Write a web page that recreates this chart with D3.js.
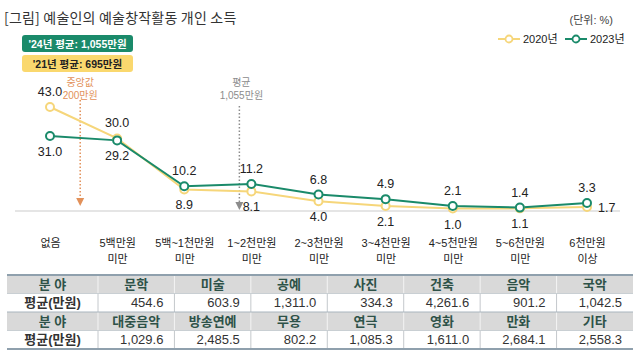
<!DOCTYPE html>
<html>
<head>
<meta charset="utf-8">
<script src="https://cdn.jsdelivr.net/npm/d3@7"></script>
<style>
  html, body { margin: 0; padding: 0; background: #fff; }
  svg { display: block; font-family: "Liberation Sans", Arial, "Noto Sans CJK KR", sans-serif; }
</style>
</head>
<body>
<svg id="chart" width="640" height="360"></svg>
<script>
// ---- data ----
const categories = ["없음", "5백만원\n미만", "5백~1천만원\n미만", "1~2천만원\n미만", "2~3천만원\n미만", "3~4천만원\n미만", "4~5천만원\n미만", "5~6천만원\n미만", "6천만원\n이상"];
const series2020 = [43.0, 30.0, 8.9, 8.1, 4.0, 2.1, 1.0, 1.1, 1.7];
const series2023 = [31.0, 29.2, 10.2, 11.2, 6.8, 4.9, 2.1, 1.4, 3.3];
const seriesNames = ["2020년", "2023년"];
const badgeTexts = ["'24년 평균: 1,055만원", "'21년 평균: 695만원"];
const medianLabel = ["중앙값", "200만원"];
const meanLabel = ["평균", "1,055만원"];
const tableFields1 = ["문학", "미술", "공예", "사진", "건축", "음악", "국악"];
const tableAvg1 = [454.6, 603.9, 1311.0, 334.3, 4261.6, 901.2, 1042.5];
const tableFields2 = ["대중음악", "방송연예", "무용", "연극", "영화", "만화", "기타"];
const tableAvg2 = [1029.6, 2485.5, 802.2, 1085.3, 1611.0, 2684.1, 2558.3];
const tableRowHeads = ["분  야", "평균(만원)"];

// ---- styles ----
const C_GREEN = "#1a8a6a";
const C_YELLOW = "#f6d67a";
const C_ORANGE = "#e2915a";
const KFONT = "'Liberation Sans', Arial, 'Noto Sans CJK KR', sans-serif";

const svg = d3.select("#chart");

// title
svg.append("text").attr("x", 4).attr("y", 23)
  .attr("font-size", 14).attr("fill", "#333").attr("letter-spacing", 0.2)
  .attr("font-family", "'Noto Sans CJK KR', sans-serif")
  .text("[그림] 예술인의 예술창작활동 개인 소득");

// unit
svg.append("text").attr("x", 613).attr("y", 24).attr("text-anchor", "end")
  .attr("font-size", 11).attr("fill", "#444").text("(단위: %)");

// badges
const badgeColors = [C_GREEN, "#fad86e"];
const badgeTextColors = ["#fff", "#222"];
badgeTexts.forEach((t, i) => {
  const y0 = 35 + i * 20;
  svg.append("rect").attr("x", 22).attr("y", y0).attr("width", 111).attr("height", 17)
    .attr("rx", 3).attr("fill", badgeColors[i]);
  svg.append("text").attr("x", 77.5).attr("y", y0 + 12.5).attr("text-anchor", "middle")
    .attr("font-size", 10.5).attr("font-weight", "bold").attr("fill", badgeTextColors[i])
    .text(t);
});

// legend
const legendColors = [C_YELLOW, C_GREEN];
const legendX = [498, 565];
seriesNames.forEach((n, i) => {
  const g = svg.append("g").attr("transform", `translate(${legendX[i]},39)`);
  g.append("line").attr("x1", 0).attr("x2", 22).attr("stroke", legendColors[i]).attr("stroke-width", 2);
  g.append("circle").attr("cx", 11).attr("r", 3.5).attr("fill", "#fff")
    .attr("stroke", legendColors[i]).attr("stroke-width", 1.8);
  g.append("text").attr("x", 25).attr("y", 4).attr("font-size", 11).attr("fill", "#222").text(n);
});

// scales
const x = d3.scalePoint().domain(categories).range([50, 587]);
const y = d3.scaleLinear().domain([0, 43]).range([211, 107]);

// baseline
svg.append("line").attr("x1", 15).attr("x2", 620).attr("y1", y(0)).attr("y2", y(0))
  .attr("stroke", "#dcdcdc").attr("stroke-width", 1.5);

// category labels via axis
const xAxis = d3.axisBottom(x).tickSize(0).tickFormat("");
const axG = svg.append("g").attr("transform", `translate(0,${y(0)})`).call(xAxis);
axG.select(".domain").remove();
axG.selectAll(".tick").each(function(d) {
  const lines = d.split("\n");
  const t = d3.select(this).append("text").attr("text-anchor", "middle")
    .attr("font-size", 11).attr("fill", "#222").attr("font-family", KFONT);
  lines.forEach((l, k) => {
    t.append("tspan").attr("x", 0).attr("y", 36 + k * 16).text(l);
  });
});

// reference arrows (median 200만원 between 없음 and 5백만원; mean 1,055만원 at 1~2천만원)
function refArrow(xPos, yTop, yTip, color, labels, lx) {
  svg.append("line").attr("x1", xPos).attr("x2", xPos).attr("y1", yTop).attr("y2", yTip - 7)
    .attr("stroke", color).attr("stroke-width", 1.5).attr("stroke-dasharray", "1.5,2");
  svg.append("path")
    .attr("d", `M${xPos - 4},${yTip - 8} L${xPos + 4},${yTip - 8} L${xPos},${yTip} Z`)
    .attr("fill", color);
  labels.forEach((l, k) => {
    svg.append("text").attr("x", lx).attr("y", 86 + k * 13).attr("text-anchor", "middle")
      .attr("font-size", 10).attr("fill", color).attr("font-family", KFONT).text(l);
  });
}
const xMedian = x(categories[0]) + (x(categories[1]) - x(categories[0])) * 0.45;
const xMean = x(categories[3]) - 12;
refArrow(xMedian, 100, 206, C_ORANGE, medianLabel, xMedian);
refArrow(xMean, 106, 210, "#8c8c8c", meanLabel, xMean + 2);

// lines
const line = d3.line().x((d, i) => x(categories[i])).y(d => y(d));
const allSeries = [series2020, series2023];
allSeries.forEach((s, si) => {
  svg.append("path").datum(s).attr("d", line).attr("fill", "none")
    .attr("stroke", legendColors[si]).attr("stroke-width", 2);
});
allSeries.forEach((s, si) => {
  svg.append("g").selectAll("circle").data(s).join("circle")
    .attr("cx", (d, i) => x(categories[i])).attr("cy", d => y(d)).attr("r", 4)
    .attr("fill", "#fff").attr("stroke", legendColors[si]).attr("stroke-width", 2);
});

// value labels
const fmt = d3.format(".1f");
function addLabel(v, i, pos) {
  const cx = x(categories[i]), cy = y(v);
  const t = svg.append("text").attr("font-size", 12.5).attr("fill", "#222").text(fmt(v));
  if (pos === "above") t.attr("x", cx).attr("y", cy - 11).attr("text-anchor", "middle");
  else if (pos === "below") t.attr("x", cx).attr("y", cy + 20).attr("text-anchor", "middle");
  else t.attr("x", cx + 11).attr("y", cy + 5).attr("text-anchor", "start");
}
series2020.forEach((v, i) => {
  addLabel(v, i, i < 2 ? "above" : (i === series2020.length - 1 ? "right" : "below"));
});
series2023.forEach((v, i) => {
  addLabel(v, i, i < 2 ? "below" : "above");
});

// table
const tX0 = 7, firstW = 91, tX1 = 633;
const colW = (tX1 - tX0 - firstW) / tableFields1.length;
const rowY = [275, 293.5, 312, 330.5, 349];
const rows = [
  { head: tableRowHeads[0], cells: tableFields1, header: true },
  { head: tableRowHeads[1], cells: tableAvg1.map(d => d3.format(",.1f")(d)), header: false },
  { head: tableRowHeads[0], cells: tableFields2, header: true },
  { head: tableRowHeads[1], cells: tableAvg2.map(d => d3.format(",.1f")(d)), header: false }
];
const tg = svg.append("g").attr("font-family", KFONT);
rows.forEach((r, ri) => {
  const y0 = rowY[ri], h = rowY[ri + 1] - rowY[ri];
  const cy = y0 + h / 2 + 4.5;
  tg.append("rect").attr("x", tX0).attr("y", y0).attr("width", tX1 - tX0).attr("height", h)
    .attr("fill", r.header ? "#d9d9d9" : "#fff");
  tg.append("text").attr("x", tX0 + firstW / 2).attr("y", cy).attr("text-anchor", "middle")
    .attr("font-size", 13).attr("font-weight", "bold")
    .attr("fill", r.header ? "#2e5248" : "#333").text(r.head);
  r.cells.forEach((c, ci) => {
    const cx0 = tX0 + firstW + ci * colW;
    const t = tg.append("text").attr("y", cy).attr("font-size", 13).text(c);
    if (r.header) t.attr("x", cx0 + colW / 2).attr("text-anchor", "middle")
      .attr("font-weight", "bold").attr("fill", "#2e5248");
    else t.attr("x", cx0 + colW - 11).attr("text-anchor", "end").attr("fill", "#333");
  });
});
// vertical separators
for (let ci = 0; ci < tableFields1.length; ci++) {
  const xx = tX0 + firstW + ci * colW;
  rows.forEach((r, ri) => {
    tg.append("line").attr("x1", xx).attr("x2", xx).attr("y1", rowY[ri]).attr("y2", rowY[ri + 1])
      .attr("stroke", r.header ? "#f4f4f4" : "#c4c8cc").attr("stroke-width", 1);
  });
}
// horizontal lines
rowY.forEach((yy, k) => {
  const outer = k === 0 || k === rowY.length - 1;
  tg.append("line").attr("x1", tX0).attr("x2", tX1).attr("y1", yy).attr("y2", yy)
    .attr("stroke", outer ? "#8fa0ad" : (k === 2 ? "#a9b5be" : "#c9cfd3"))
    .attr("stroke-width", outer ? 2 : 1);
});
</script>
</body>
</html>
